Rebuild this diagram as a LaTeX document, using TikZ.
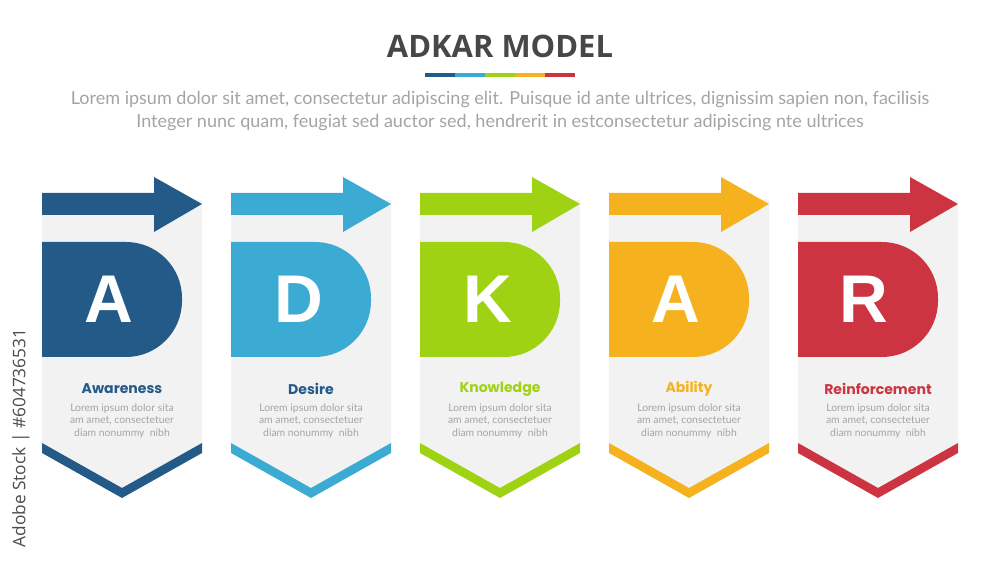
\documentclass[tikz,border=0pt]{standalone}
\usepackage{fontspec}
\setmainfont{Lato}
\newfontfamily\headfont{Open Sans}
\newfontfamily\tagfont{Poppins}
\newfontfamily\capfont{Liberation Sans}
\usepackage{tikz}

\definecolor{cA}{HTML}{235A88}
\definecolor{cD}{HTML}{3BABD4}
\definecolor{cK}{HTML}{A0D214}
\definecolor{cB}{HTML}{F5B21E}
\definecolor{cR}{HTML}{CC3442}
\definecolor{panelgray}{HTML}{F2F2F2}
\definecolor{loremgray}{HTML}{8E8E8E}

\tikzset{
  panel/.style={fill=panelgray},
  letter/.style={text=white, font=\capfont\bfseries\fontsize{48}{48}\selectfont},
  tag/.style={font=\tagfont\bfseries\fontsize{10}{12}\selectfont},
  blurb/.style={text=loremgray!80, align=center, font=\fontsize{7.4}{9}\selectfont}
}

\begin{document}
\begin{tikzpicture}[x=0.025cm, y=-0.025cm]
\useasboundingbox (0,0) rectangle (1000,563);

% heading
\node[text=black!72, font=\headfont\bfseries\fontsize{22}{22}\selectfont] (title) at (500,46) {ADKAR MODEL};
\draw[line width=2.2pt, cA] (425,75) -- (455,75);
\draw[line width=2.2pt, cD] (455,75) -- (485,75);
\draw[line width=2.2pt, cK] (485,75) -- (515,75);
\draw[line width=2.2pt, cB] (515,75) -- (545,75);
\draw[line width=2.2pt, cR] (545,75) -- (575,75);
\node[text=loremgray!80, align=center, font=\fontsize{12.8}{15.8}\selectfont] (intro) at (500,111)
  {Lorem ipsum dolor sit amet, consectetur adipiscing elit. Puisque id ante ultrices, dignissim sapien non, facilisis\\
   Integer nunc quam, feugiat sed auctor sed, hendrerit in estconsectetur adipiscing nte ultrices};

% A
\fill[panel] (42,200) -- (202,200) -- (202,443) -- (122,488) -- (42,443) -- cycle;
\fill[cA] (42,193) -- (154,193) -- (154,177) -- (202,204) -- (154,232) -- (154,215) -- (42,215) -- cycle;
\fill[cA] (42,357) -- (42,242) [rounded corners=1.4cm] -- (182,242) -- (182,357) [sharp corners] -- cycle;
\fill[cA] (42,443) -- (122,488) -- (202,443) -- (202,453) -- (122,498) -- (42,453) -- cycle;
\node[letter] (letA) at (109,299) {A};
\node[tag, cA] (tagA) at (122,389) {Awareness};
\node[blurb] (txtA) at (122,421) {Lorem ipsum dolor sita\\am amet, consectetuer\\diam nonummy\ \ nibh};

% D
\fill[panel] (231,200) -- (391,200) -- (391,443) -- (311,488) -- (231,443) -- cycle;
\fill[cD] (231,193) -- (343,193) -- (343,177) -- (391,204) -- (343,232) -- (343,215) -- (231,215) -- cycle;
\fill[cD] (231,357) -- (231,242) [rounded corners=1.4cm] -- (371,242) -- (371,357) [sharp corners] -- cycle;
\fill[cD] (231,443) -- (311,488) -- (391,443) -- (391,453) -- (311,498) -- (231,453) -- cycle;
\node[letter] (letD) at (299,299) {D};
\node[tag, cA] (tagD) at (311,389) {Desire};
\node[blurb] (txtD) at (311,421) {Lorem ipsum dolor sita\\am amet, consectetuer\\diam nonummy\ \ nibh};

% K
\fill[panel] (420,200) -- (580,200) -- (580,443) -- (500,488) -- (420,443) -- cycle;
\fill[cK] (420,193) -- (532,193) -- (532,177) -- (580,204) -- (532,232) -- (532,215) -- (420,215) -- cycle;
\fill[cK] (420,357) -- (420,242) [rounded corners=1.4cm] -- (560,242) -- (560,357) [sharp corners] -- cycle;
\fill[cK] (420,443) -- (500,488) -- (580,443) -- (580,453) -- (500,498) -- (420,453) -- cycle;
\node[letter] (letK) at (488,299) {K};
\node[tag, cK] (tagK) at (500,389) {Knowledge};
\node[blurb] (txtK) at (500,421) {Lorem ipsum dolor sita\\am amet, consectetuer\\diam nonummy\ \ nibh};

% A
\fill[panel] (609,200) -- (769,200) -- (769,443) -- (689,488) -- (609,443) -- cycle;
\fill[cB] (609,193) -- (721,193) -- (721,177) -- (769,204) -- (721,232) -- (721,215) -- (609,215) -- cycle;
\fill[cB] (609,357) -- (609,242) [rounded corners=1.4cm] -- (749,242) -- (749,357) [sharp corners] -- cycle;
\fill[cB] (609,443) -- (689,488) -- (769,443) -- (769,453) -- (689,498) -- (609,453) -- cycle;
\node[letter] (letB) at (676,299) {A};
\node[tag, cB] (tagB) at (689,389) {Ability};
\node[blurb] (txtB) at (689,421) {Lorem ipsum dolor sita\\am amet, consectetuer\\diam nonummy\ \ nibh};

% R
\fill[panel] (798,200) -- (958,200) -- (958,443) -- (878,488) -- (798,443) -- cycle;
\fill[cR] (798,193) -- (910,193) -- (910,177) -- (958,204) -- (910,232) -- (910,215) -- (798,215) -- cycle;
\fill[cR] (798,357) -- (798,242) [rounded corners=1.4cm] -- (938,242) -- (938,357) [sharp corners] -- cycle;
\fill[cR] (798,443) -- (878,488) -- (958,443) -- (958,453) -- (878,498) -- (798,453) -- cycle;
\node[letter] (letR) at (864,299) {R};
\node[tag, cR] (tagR) at (878,389) {Reinforcement};
\node[blurb] (txtR) at (878,421) {Lorem ipsum dolor sita\\am amet, consectetuer\\diam nonummy\ \ nibh};

\node[rotate=90, text=black!70, font=\headfont\fontsize{12.3}{14}\selectfont] (stock) at (21,438) {Adobe Stock | \#604736531};
\end{tikzpicture}
\end{document}
